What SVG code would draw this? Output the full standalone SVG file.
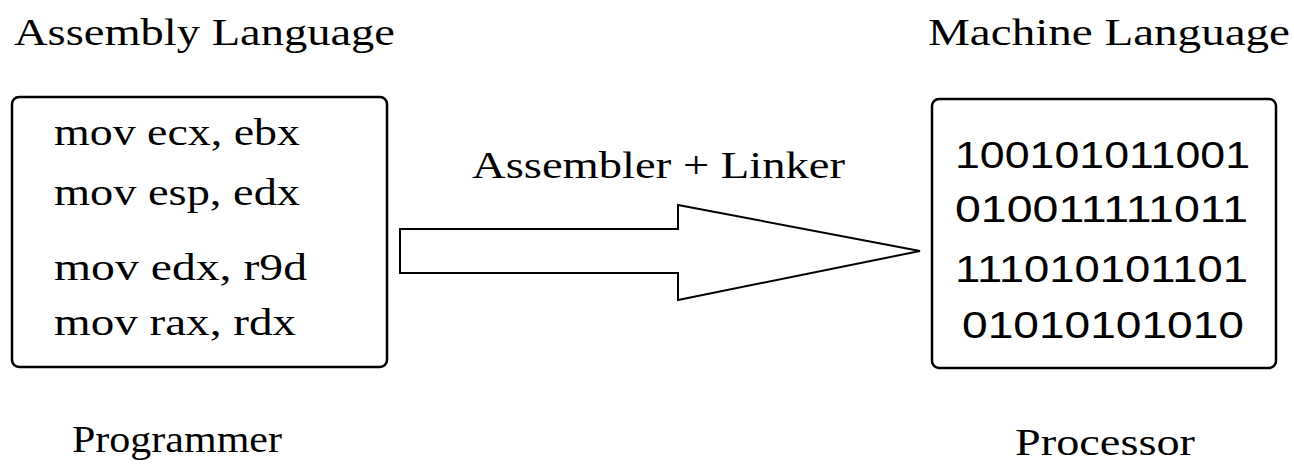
<svg xmlns="http://www.w3.org/2000/svg" width="1294" height="474" viewBox="0 0 1294 474">
<style>
.s{font-family:"Liberation Serif","DejaVu Serif",serif;font-size:38px;fill:#000}
.b{font-family:"Liberation Sans",Arial,sans-serif;font-size:37px;fill:#000}
.box{fill:#fff;stroke:#000;stroke-width:2.5}
</style>
<rect width="1294" height="474" fill="#fff"/>
<g id="title-left"><text class="s" x="14" y="45" textLength="381" lengthAdjust="spacingAndGlyphs">Assembly Language</text></g>
<g id="title-right"><text class="s" x="928" y="45" textLength="362" lengthAdjust="spacingAndGlyphs">Machine Language</text></g>
<g id="assembly">
<rect class="box" x="12" y="97" width="375" height="270" rx="7"/>
<text class="s" x="54" y="145" textLength="246" lengthAdjust="spacingAndGlyphs">mov ecx, ebx</text>
<text class="s" x="54" y="205" textLength="246" lengthAdjust="spacingAndGlyphs">mov esp, edx</text>
<text class="s" x="54" y="280" textLength="253" lengthAdjust="spacingAndGlyphs">mov edx, r9d</text>
<text class="s" x="54" y="335" textLength="242" lengthAdjust="spacingAndGlyphs">mov rax, rdx</text>
</g>
<g id="machine">
<rect class="box" x="932" y="99" width="344" height="269" rx="7"/>
<text class="b" x="955" y="168" textLength="295" lengthAdjust="spacingAndGlyphs">100101011001</text>
<text class="b" x="955" y="222" textLength="293" lengthAdjust="spacingAndGlyphs">010011111011</text>
<text class="b" x="955" y="282" textLength="293" lengthAdjust="spacingAndGlyphs">111010101101</text>
<text class="b" x="962" y="338" textLength="282" lengthAdjust="spacingAndGlyphs">01010101010</text>
</g>
<g id="connectors">
<polygon points="400,229 678,229 678,205 920,251 678,300 678,273 400,273" fill="#fff" stroke="#000" stroke-width="2"/>
<text class="s" x="472" y="178" textLength="373" lengthAdjust="spacingAndGlyphs">Assembler + Linker</text>
</g>
<g id="programmer"><text class="s" x="72" y="452" textLength="210" lengthAdjust="spacingAndGlyphs">Programmer</text></g>
<g id="processor"><text class="s" x="1015" y="455" textLength="180" lengthAdjust="spacingAndGlyphs">Processor</text></g>
</svg>
